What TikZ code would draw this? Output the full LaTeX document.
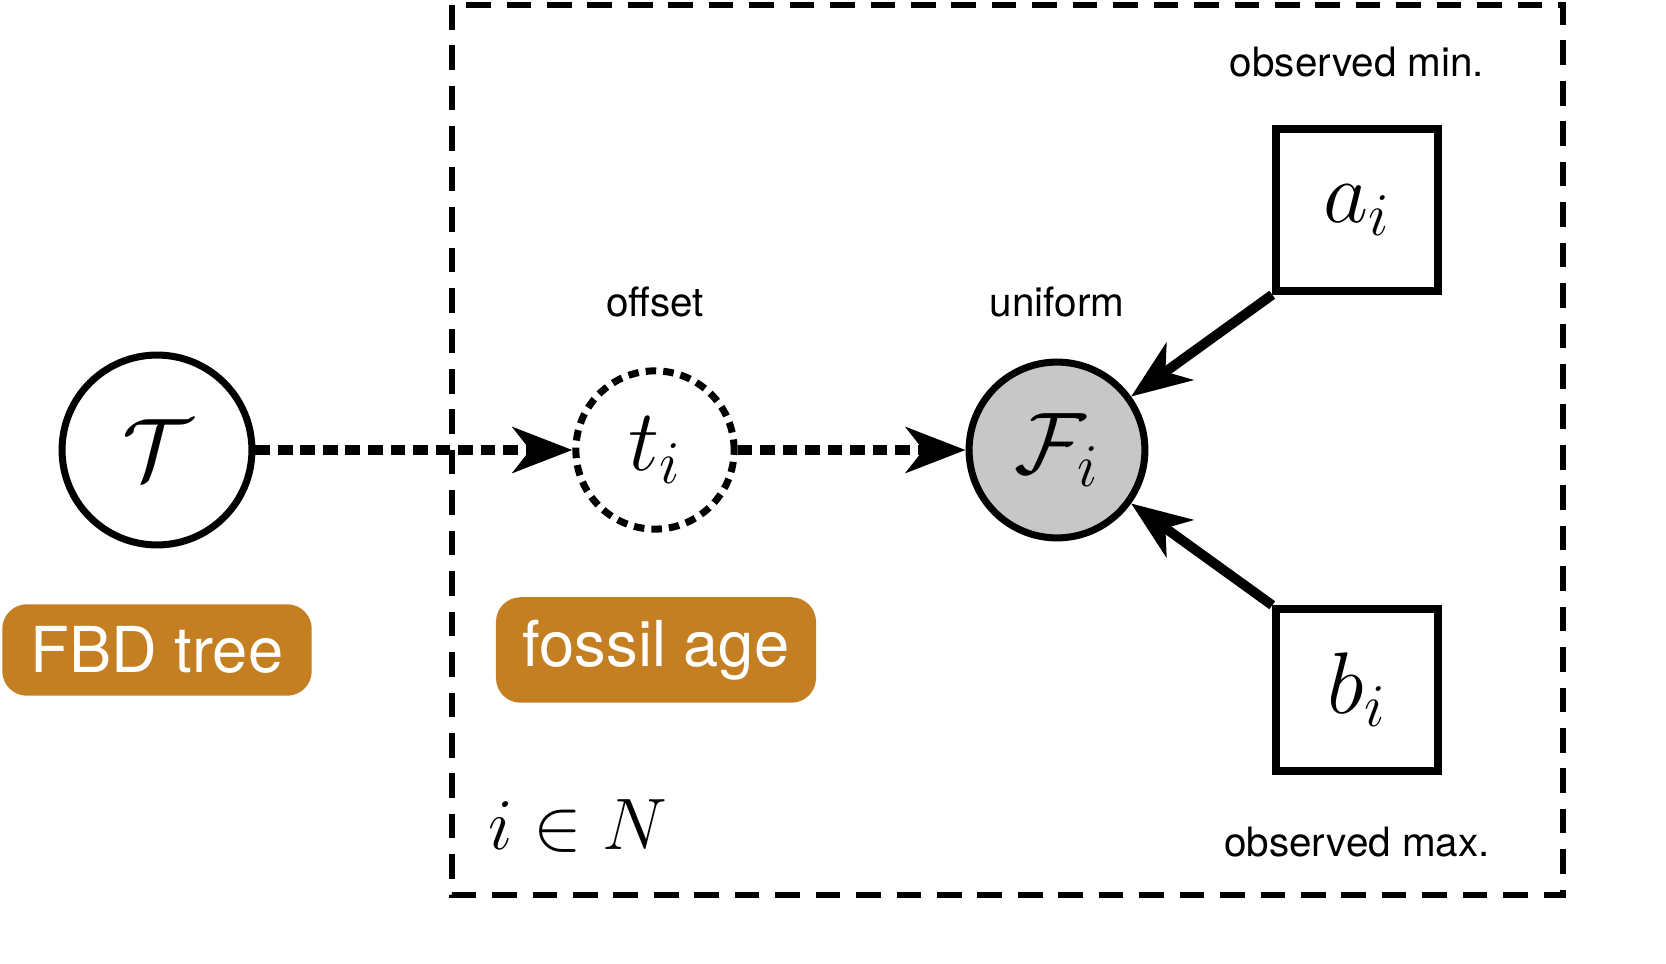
\documentclass[tikz,border=0pt]{standalone}
\usepackage{amsmath, amssymb}
\usepackage{fontspec}
\setmainfont{TeX Gyre Heros}
\usetikzlibrary{arrows.meta, positioning}

\definecolor{boxorange}{HTML}{C47F23}
\tikzset{
    var/.style={circle, draw, line width=2pt, minimum size=#1, inner sep=0pt, font=\fontsize{26}{30}\selectfont},
    const/.style={rectangle, draw, line width=2.2pt, minimum size=46pt, inner sep=0pt, font=\fontsize{26}{30}\selectfont},
    lbl/.style={font=\fontsize{11.5}{14}\selectfont},
    tag/.style={fill=boxorange, text=white, rounded corners=7pt, inner sep=0pt, font=\fontsize{18}{22}\selectfont},
    edgetip/.style={-{Stealth[length=17pt, width=13pt, inset=5pt]}},
}

\begin{document}
\begin{tikzpicture}[x=0.01cm, y=-0.01cm]
    \useasboundingbox (0,0) rectangle (1666,964);

    % plate
    \draw[line width=1.6pt, dash pattern=on 7pt off 4.5pt] (452,5) rectangle (1563,895);
    \node[font=\fontsize{20}{24}\selectfont] at (578,826) {$i \in N$};

    % nodes
    \node[var=54pt] (tree) at (157,450) {$\mathcal{T}$};
    \node[var=45pt, line width=2pt, dash pattern=on 3pt off 2pt] (age) at (655,450) {$t_i$};
    \node[var=50pt, fill=black!22] (fossil) at (1057,450) {$\mathcal{F}_i$};
    \node[const] (amin) at (1357,210) {$a_i$};
    \node[const] (bmax) at (1357,690) {$b_i$};

    % labels
    \node[lbl] at (655,302) {offset};
    \node[lbl] at (1057,302) {uniform};
    \node[lbl] at (1357,62) {observed min.};
    \node[lbl] at (1357,842) {observed max.};
    \node[tag, minimum width=88pt, minimum height=26pt] at (157,650) {FBD tree};
    \node[tag, minimum width=91pt, minimum height=30pt] at (656,650) {fossil age};

    % edges
    \draw[edgetip, line width=2.6pt, dash pattern=on 4.2pt off 2.2pt] (tree) -- (age);
    \draw[edgetip, line width=2.6pt, dash pattern=on 4.2pt off 2.2pt] (age) -- (fossil);
    \draw[edgetip, line width=2.8pt] (amin.south west) -- (fossil);
    \draw[edgetip, line width=2.8pt] (bmax.north west) -- (fossil);
\end{tikzpicture}
\end{document}
